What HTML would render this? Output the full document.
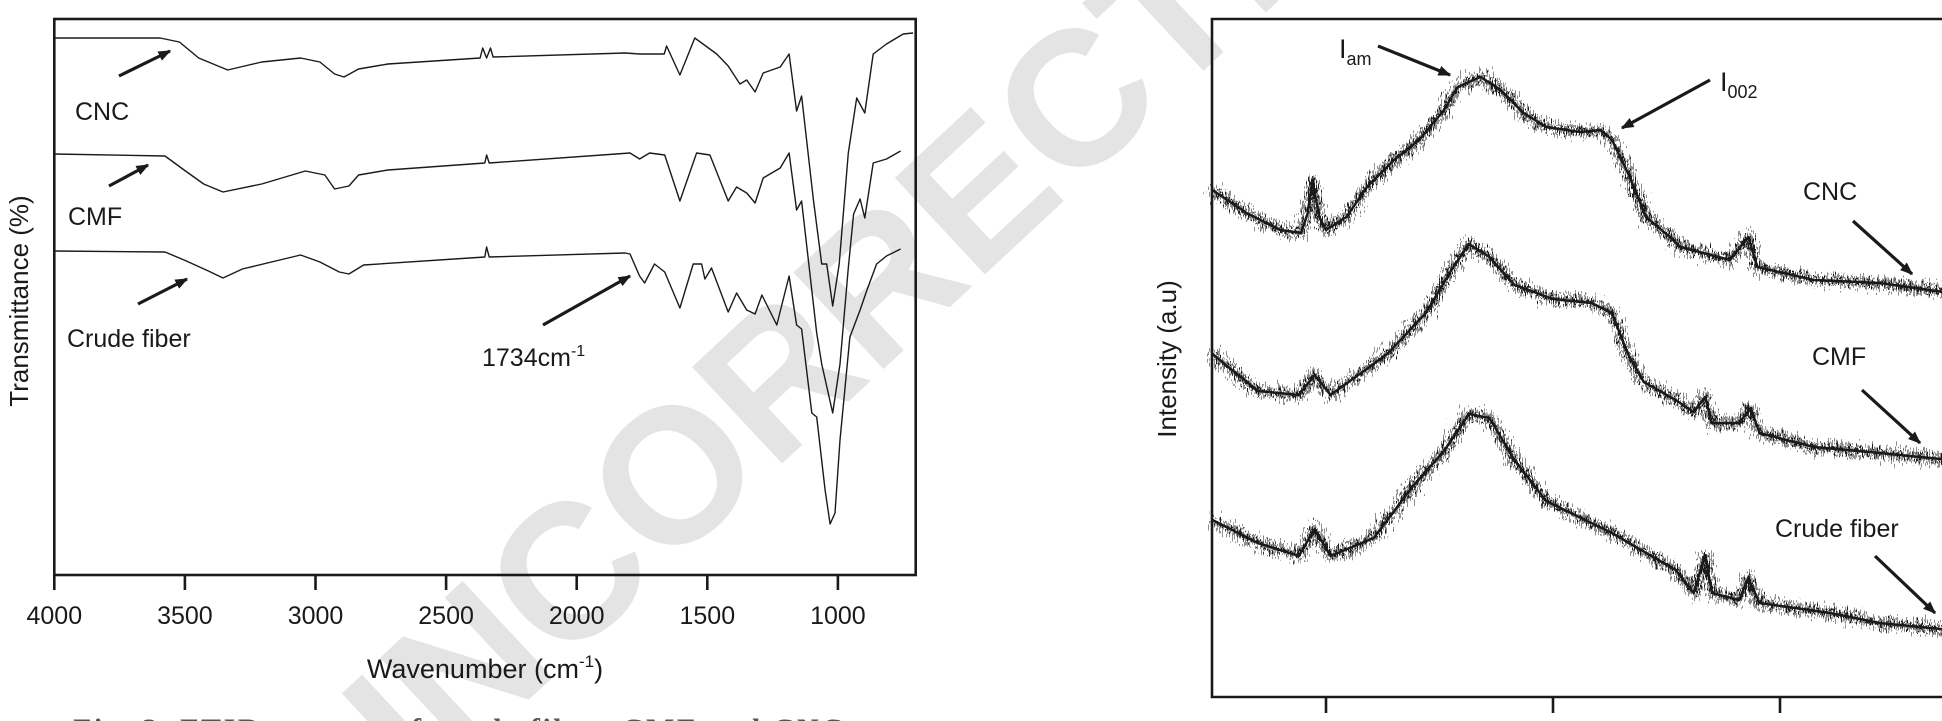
<!DOCTYPE html>
<html><head><meta charset="utf-8"><style>
html,body{margin:0;padding:0;background:#fff;overflow:hidden;width:1942px;height:721px;}
svg{display:block;font-family:"Liberation Sans",Arial,sans-serif;}
</style></head><body>
<svg id="fig" width="1942" height="721" viewBox="0 0 1942 721" xmlns="http://www.w3.org/2000/svg">
<defs>
<filter id="noise" x="-5%" y="-20%" width="110%" height="140%">
<feTurbulence type="fractalNoise" baseFrequency="1.2 0.08" numOctaves="2" seed="3" result="t"/>
<feDisplacementMap in="SourceGraphic" in2="t" scale="34" xChannelSelector="A" yChannelSelector="R"/>
</filter>
<filter id="noise2" x="-5%" y="-20%" width="110%" height="140%">
<feTurbulence type="fractalNoise" baseFrequency="1.5 0.12" numOctaves="2" seed="11" result="t"/>
<feDisplacementMap in="SourceGraphic" in2="t" scale="28" xChannelSelector="A" yChannelSelector="G"/>
</filter>
<clipPath id="cap"><rect x="0" y="0" width="1942" height="721"/></clipPath>
<marker id="ah" viewBox="0 0 10 10" refX="9" refY="5" markerWidth="4" markerHeight="4" orient="auto"><path d="M0,1 L10,5 L0,9 z" fill="#1a1a1a"/></marker>
</defs>
<text x="860" y="300" transform="rotate(-43 860 300)" text-anchor="middle" dominant-baseline="central" font-size="192" font-weight="bold" fill="#e4e4e4">UNCORRECTED</text>

<g id="ftir"></g>
<g id="xrd"></g>

<g clip-path="url(#cap)"><text x="73" y="739" font-family="Liberation Serif,serif" font-size="30" font-weight="bold" fill="#555" textLength="780">Fig. 3. FTIR spectra of crude fiber, CMF and CNC.</text></g>
</svg>
<script>
// ---------- FTIR data ----------
const ftirTicks = [4000, 3500, 3000, 2500, 2000, 1500, 1000];
const cncWn = [4000,3595,3521,3447,3336,3206,3057,2983,2927,2891,2835,2723,2370,2360,2345,2330,2320,1815,1759,1665,1656,1605,1548,1464,1420,1375,1349,1317,1286,1221,1187,1158,1139,1094,1062,1043,1020,995,960,928,897,865,814,750,712];
const cncT = [537,537,533,517,505,513,517,513,501,498,506,511,517,527,517,527,518,522,521,521,529,500,537,521,509,491,495,483,502,508,521,464,479,376,311,311,269,311,422,477,462,521,531,541,542];
const cmfWn = [4000,3576,3503,3428,3354,3206,3039,2964,2927,2872,2835,2723,2352,2345,2335,1796,1759,1721,1663,1605,1541,1490,1420,1388,1349,1317,1286,1221,1187,1158,1139,1081,1062,1020,992,960,940,915,897,865,814,760];
const cmfT = [421,419,405,391,383,391,404,400,386,389,400,405,412,420,412,422,416,422,420,374,422,420,374,388,382,372,397,407,422,365,374,242,211,162,211,307,361,376,357,412,416,424];
const crudeWn = [4000,3576,3503,3410,3354,3280,3057,2983,2909,2872,2816,2352,2345,2335,1815,1796,1759,1740,1702,1663,1605,1554,1522,1509,1484,1420,1388,1349,1317,1291,1234,1187,1158,1139,1100,1081,1049,1030,1011,992,954,915,890,852,814,760];
const crudeT = [324,323,315,304,297,306,320,313,303,301,310,318,328,318,322,321,299,292,311,303,267,311,311,296,307,263,282,265,261,280,250,299,250,246,162,158,85,51,62,135,238,265,284,311,319,326];

// ---------- XRD data ----------
const xrdTicks = [10, 20, 30];
const cncTheta = [5,6.5,8,8.9,9.2,9.4,9.7,10,10.9,11.8,13,14.1,15.2,15.8,16.8,17.7,18.7,19.7,21.2,22.1,22.6,23.3,24.1,25.3,25.6,27.8,28.6,29,31.5,34.4,37.5];
const cncI = [507,484,467,464,484,517,480,467,480,510,537,557,587,610,620,607,584,570,565,567,557,524,480,457,450,437,460,430,417,414,404];
const cmfTheta = [5,7,8.8,9.5,10.2,11.3,12.7,14.4,15.5,16.3,17.2,18.3,20,21.7,22.6,23.3,24,25.4,26.2,26.7,27,28.2,28.7,29.1,31.5,34.4,37.5];
const cmfI = [343,306,302,322,302,320,343,384,426,453,440,412,398,394,384,343,315,297,285,300,274,274,289,264,250,244,237];
const crudeTheta = [5,7,8.8,9.5,10.2,12.1,13.8,15.2,16.3,17.2,18.3,19.7,22.6,25.4,26.2,26.7,27,28.2,28.6,29.1,32.2,34.4,37.5];
const crudeI = [177,154,141,168,141,159,210,246,283,279,237,196,164,127,104,142,104,97,119,94,84,74,67];

const NS = "http://www.w3.org/2000/svg";
function mk(tag, attrs, parent, txt){
  const e = document.createElementNS(NS, tag);
  for (const k in attrs) e.setAttribute(k, attrs[k]);
  if (txt !== undefined) e.textContent = txt;
  parent.appendChild(e); return e;
}
const fx = w => 54.3 + (4000 - w) * 0.2612;
const fy = t => 575 - t;
const F = document.getElementById('ftir');
let fr = mk('rect', {x:54.3, y:19, width:861.4, height:556, fill:'none', stroke:'#1a1a1a', 'stroke-width':2.6}, F);


ftirTicks.forEach(v => {
  const l = mk('line', {x1:fx(v), x2:fx(v), y1:575, y2:590, stroke:'#1a1a1a', 'stroke-width':2.6}, F);
  
  
  const t = mk('text', {x:fx(v), y:624, 'text-anchor':'middle', 'font-size':25, fill:'#1a1a1a'}, F, String(v));
  
  
});
function ftirLine(wn, T, name){
  const p = mk('polyline', {points: wn.map((w,i)=>fx(w).toFixed(1)+','+fy(T[i]).toFixed(1)).join(' '), fill:'none', stroke:'#1a1a1a', 'stroke-width':1.4, 'stroke-linejoin':'round'}, F);
  
  
}
ftirLine(cncWn, cncT, 'ftir-cnc-line');
ftirLine(cmfWn, cmfT, 'ftir-cmf-line');
ftirLine(crudeWn, crudeT, 'ftir-crude-fiber-line');

const xx = t => 1326 + (t - 10) * 22.7;
const xy = v => 697 - v;
const X = document.getElementById('xrd');
let xf = mk('path', {d:'M1960,19 L1212,19 L1212,697 L1960,697', fill:'none', stroke:'#1a1a1a', 'stroke-width':2.6}, X);


xrdTicks.forEach(v => {
  const l = mk('line', {x1:xx(v), x2:xx(v), y1:697, y2:713, stroke:'#1a1a1a', 'stroke-width':2.6}, X);
  
  
});
function xrdLine(th, I, name){
  const pts = th.map((t,i)=>xx(t).toFixed(1)+','+xy(I[i]).toFixed(1)).join(' ');
  const g = mk('g', {}, X);
  
  
  mk('polyline', {points:pts, fill:'none', stroke:'#1a1a1a', 'stroke-width':3.5, filter:'url(#noise)'}, g);
  mk('polyline', {points:pts, fill:'none', stroke:'#1a1a1a', 'stroke-width':3.5, filter:'url(#noise2)'}, g);
  mk('polyline', {points:pts, fill:'none', stroke:'#1a1a1a', 'stroke-width':2.5, 'stroke-linejoin':'round'}, g);
}
xrdLine(cncTheta, cncI, 'xrd-cnc-line');
xrdLine(cmfTheta, cmfI, 'xrd-cmf-line');
xrdLine(crudeTheta, crudeI, 'xrd-crude-fiber-line');
</script>
<script>
(function(){
const svg = document.getElementById('fig');
const NS = "http://www.w3.org/2000/svg";
function txt(x,y,s,size,name,extra){
  const t = document.createElementNS(NS,'text');
  t.setAttribute('x',x); t.setAttribute('y',y); t.setAttribute('font-size',size); t.setAttribute('fill','#1a1a1a');
  if (extra) for (const k in extra) t.setAttribute(k, extra[k]);
  t.innerHTML = s;
  
  
  svg.appendChild(t); return t;
}
function arrow(x1,y1,x2,y2,name){
  const l = document.createElementNS(NS,'line');
  l.setAttribute('x1',x1); l.setAttribute('y1',y1); l.setAttribute('x2',x2); l.setAttribute('y2',y2);
  l.setAttribute('stroke','#1a1a1a'); l.setAttribute('stroke-width',3.2); l.setAttribute('marker-end','url(#ah)');
  
  
  svg.appendChild(l);
}
txt(75,120,'CNC',25,'label-cnc');
arrow(119,76,170,51,'arrow-cnc');
txt(68,225,'CMF',25,'label-cmf');
arrow(109,186,148,165,'arrow-cmf');
txt(67,347,'Crude fiber',25,'label-crude-fiber');
arrow(138,304,187,279,'arrow-crude-fiber');
txt(482,366,'1734cm<tspan dy="-10" font-size="16">-1</tspan>',25,'label-1734');
arrow(543,325,630,276,'arrow-1734');
txt(485,678,'Wavenumber (cm<tspan dy="-11" font-size="17">-1</tspan><tspan dy="11">)</tspan>',27,'x-axis-title',{'text-anchor':'middle'});
txt(19,301,'Transmittance (%)',26,'y-axis-title',{'text-anchor':'middle','dominant-baseline':'central','transform':'rotate(-90 19 301)'});
txt(1167,359,'Intensity (a.u)',26,'xrd-y-axis-title',{'text-anchor':'middle','dominant-baseline':'central','transform':'rotate(-90 1167 359)'});
txt(1339,58,'I<tspan dy="7" font-size="18">am</tspan>',27,'label-i-am');
arrow(1378,46,1450,75,'arrow-i-am');
txt(1720,91,'I<tspan dy="7" font-size="18">002</tspan>',27,'label-i-002');
arrow(1710,80,1622,128,'arrow-i-002');
txt(1803,200,'CNC',25,'xrd-label-cnc');
arrow(1853,221,1912,274,'xrd-arrow-cnc');
txt(1812,365,'CMF',25,'xrd-label-cmf');
arrow(1862,390,1920,443,'xrd-arrow-cmf');
txt(1775,537,'Crude fiber',25,'xrd-label-crude-fiber');
arrow(1875,556,1935,613,'xrd-arrow-crude-fiber');
})();
</script>
</body></html>
